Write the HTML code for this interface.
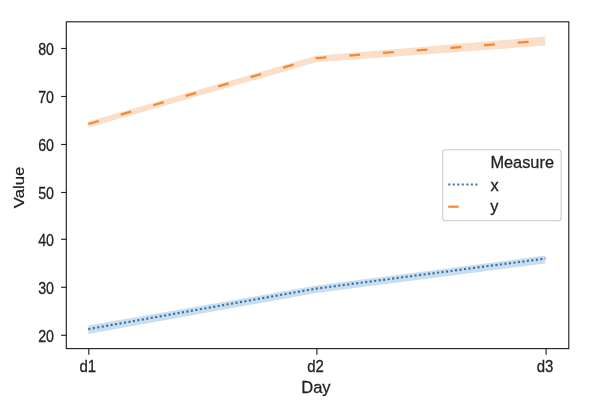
<!DOCTYPE html>
<html><head><meta charset="utf-8"><style>
html,body{margin:0;padding:0;background:#fff;}
svg{display:block;will-change:transform;}
text{font-family:"Liberation Sans", sans-serif; fill:#222222; stroke:#222222; stroke-width:0.25px;}
</style></head><body>
<svg width="606" height="416" viewBox="0 0 606 416">
<rect width="606" height="416" fill="#fff"/>
<polygon points="88.20,121.52 316.30,55.76 545.30,36.57 545.30,45.57 316.30,62.36 88.20,127.42" fill="#fcdfc9"/>
<polygon points="88.20,325.59 316.30,285.60 545.30,255.58 545.30,263.53 316.30,293.00 88.20,333.99" fill="#cadef0"/>
<polyline points="88.30,329.09 316.30,288.60 545.50,258.53" fill="none" stroke="#3572a8" stroke-width="2.2" stroke-dasharray="2.08,2.45" stroke-linecap="butt" stroke-linejoin="round"/>
<polyline points="88.30,124.02 316.30,58.06 545.50,40.57" fill="none" stroke="#f38a35" stroke-width="2.3" stroke-dasharray="10.9,22.9" stroke-linecap="butt" stroke-linejoin="round"/>
<rect x="66.3" y="21.8" width="502.50" height="326.80" fill="none" stroke="#222" stroke-width="1.15"/>
<line x1="61.10" y1="335.30" x2="66.3" y2="335.30" stroke="#222" stroke-width="1.15"/>
<text transform="translate(54.00,342.00) scale(0.95,1.14)" text-anchor="end" font-size="15">20</text>
<line x1="61.10" y1="287.30" x2="66.3" y2="287.30" stroke="#222" stroke-width="1.15"/>
<text transform="translate(54.00,294.00) scale(0.95,1.14)" text-anchor="end" font-size="15">30</text>
<line x1="61.10" y1="239.30" x2="66.3" y2="239.30" stroke="#222" stroke-width="1.15"/>
<text transform="translate(54.00,246.00) scale(0.95,1.14)" text-anchor="end" font-size="15">40</text>
<line x1="61.10" y1="192.50" x2="66.3" y2="192.50" stroke="#222" stroke-width="1.15"/>
<text transform="translate(54.00,199.20) scale(0.95,1.14)" text-anchor="end" font-size="15">50</text>
<line x1="61.10" y1="144.50" x2="66.3" y2="144.50" stroke="#222" stroke-width="1.15"/>
<text transform="translate(54.00,151.20) scale(0.95,1.14)" text-anchor="end" font-size="15">60</text>
<line x1="61.10" y1="96.50" x2="66.3" y2="96.50" stroke="#222" stroke-width="1.15"/>
<text transform="translate(54.00,103.20) scale(0.95,1.14)" text-anchor="end" font-size="15">70</text>
<line x1="61.10" y1="48.50" x2="66.3" y2="48.50" stroke="#222" stroke-width="1.15"/>
<text transform="translate(54.00,55.20) scale(0.95,1.14)" text-anchor="end" font-size="15">80</text>
<line x1="88.80" y1="348.6" x2="88.80" y2="354.80" stroke="#222" stroke-width="1.15"/>
<text transform="translate(87.80,372.00) scale(1.0,1.12)" text-anchor="middle" font-size="15">d1</text>
<line x1="316.90" y1="348.6" x2="316.90" y2="354.80" stroke="#222" stroke-width="1.15"/>
<text transform="translate(315.50,372.00) scale(1.0,1.12)" text-anchor="middle" font-size="15">d2</text>
<line x1="546.10" y1="348.6" x2="546.10" y2="354.80" stroke="#222" stroke-width="1.15"/>
<text transform="translate(545.10,372.00) scale(1.0,1.12)" text-anchor="middle" font-size="15">d3</text>
<text transform="translate(315.90,392.60) scale(1.105,1.1)" text-anchor="middle" font-size="15">Day</text>
<text transform="translate(23.50,187.40) rotate(-90) scale(1.114,1.02)" text-anchor="middle" font-size="15">Value</text>
<rect x="442.7" y="149.8" width="118.4" height="70.9" rx="2.8" ry="2.8" fill="#fff" fill-opacity="0.8" stroke="#cccccc" stroke-width="1.11"/>
<text transform="translate(490.40,168.40) scale(1.09,1.09)" font-size="15">Measure</text>
<text transform="translate(490.60,190.80) scale(1.09,1.09)" font-size="15">x</text>
<text transform="translate(490.30,212.40) scale(1.09,1.09)" font-size="15">y</text>
<line x1="448.2" y1="184.5" x2="477.7" y2="184.5" stroke="#3f7bb0" stroke-width="2.08" stroke-dasharray="2.08,2.45"/>
<line x1="448.2" y1="206.7" x2="477.7" y2="206.7" stroke="#f38a35" stroke-width="2.2" stroke-dasharray="10.5,23.2"/>
</svg></body></html>
